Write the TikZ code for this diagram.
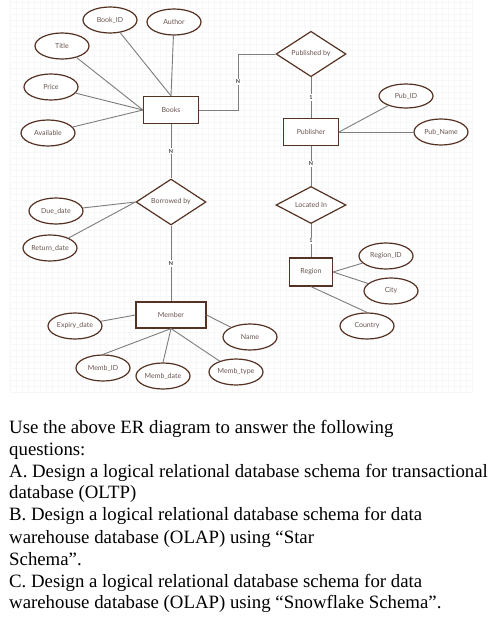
\documentclass[tikz,border=0pt]{standalone}
\usepackage{fontspec}
\setmainfont{Liberation Serif}
\newfontfamily\lato{Lato}
\usetikzlibrary{shapes.geometric}
\definecolor{erbrown}{RGB}{85,50,35}
\definecolor{ergray}{RGB}{125,125,125}
\definecolor{ertext}{RGB}{105,85,80}
\definecolor{ergrid}{RGB}{247,247,247}
\begin{document}
\begin{tikzpicture}[x=1pt,y=-1pt,
  lab/.style={font=\lato\fontsize{7}{7.5}\selectfont,text=ertext},
  attr/.style={ellipse,draw=erbrown,line width=1.2pt,fill=white,minimum width=54pt,minimum height=26pt,inner sep=0pt,lab},
  entity/.style={rectangle,draw=erbrown,line width=1.2pt,fill=white,minimum width=55pt,minimum height=27pt,inner sep=0pt,lab},
  rel/.style={diamond,draw=erbrown,line width=1.2pt,fill=white,minimum width=70pt,minimum height=33pt,inner sep=0pt,lab},
  link/.style={draw=ergray,line width=0.9pt},
  card/.style={fill=white,inner sep=1.2pt,font=\lato\bfseries\fontsize{5.5}{6}\selectfont,text=black!75},
  qtext/.style={anchor=base west,inner sep=0pt,font=\fontsize{18.8}{21.9}\selectfont}]
\useasboundingbox[fill=white] (0,0) rectangle (493,618);
\foreach \gx in {10,16,...,473} {\draw[ergrid,line width=0.4pt] (\gx,0) -- (\gx,392);}
\foreach \gy in {2,8,...,392} {\draw[ergrid,line width=0.4pt] (10,\gy) -- (473,\gy);}
% nodes
\node[attr] (bookid) at (110,20) {Book\_ID};
\node[attr] (author) at (174,22) {Author};
\node[attr] (title) at (62,46) {Title};
\node[attr] (price) at (51,87) {Price};
\node[attr] (avail) at (48,133) {Available};
\node[entity] (books) at (171,110) {Books};
\node[rel] (pubby) at (311,54) {Published by};
\node[entity] (publisher) at (311,132) {Publisher};
\node[attr,minimum height=24pt] (pubid) at (406,96) {Pub\_ID};
\node[attr] (pubname) at (441,132) {Pub\_Name};
\node[rel] (borrowed) at (171,202) {Borrowed by};
\node[attr] (due) at (56,211) {Due\_date};
\node[attr] (ret) at (50,248) {Return\_date};
\node[rel] (located) at (311,205) {Located In};
\node[entity,minimum width=43pt,minimum height=28pt] (region) at (311,272) {Region};
\node[attr] (regionid) at (386,256) {Region\_ID};
\node[attr] (city) at (391,291) {City};
\node[attr] (country) at (367,326) {Country};
\node[entity,minimum width=70pt,minimum height=26pt] (member) at (171,315) {Member};
\node[attr] (expiry) at (75,326) {Expiry\_date};
\node[attr] (name) at (250,337) {Name};
\node[attr] (mid) at (103,368) {Memb\_ID};
\node[attr] (mdate) at (163,376) {Memb\_date};
\node[attr] (mtype) at (236,372) {Memb\_type};
\coordinate (jx) at (238,0);
% connectors
\draw[link] (bookid) -- (books.north);
\draw[link] (author) -- (books.north);
\draw[link] (title) -- (books.west);
\draw[link] (price) -- (books.west);
\draw[link] (avail) -- (books.west);
\draw[link] (books.east) -- (books.east -| jx) |- (pubby.west)
  node[card,pos=0.25] (cn1) {N};
\draw[link] (pubby.south) -- (publisher.north) node[card,pos=0.5] (c11) {1};
\draw[link] (publisher.east) -- (pubid);
\draw[link] (publisher.east) -- (pubname.west);
\draw[link] (publisher.south) -- (located.north) node[card,pos=0.45] (cn2) {N};
\draw[link] (located.south) -- (region.north) node[card,pos=0.5] (c12) {1};
\draw[link] (region.east) -- (regionid);
\draw[link] (region.east) -- (city);
\draw[link] (region.south) -- (country.north);
\draw[link] (books.south) -- (borrowed.north) node[card,pos=0.5] (cn3) {N};
\draw[link] (due) -- (borrowed.west);
\draw[link] (ret) -- (borrowed.west);
\draw[link] (borrowed.south) -- (member.north) node[card,pos=0.5] (cn4) {N};
\draw[link] (expiry) -- (member.west);
\draw[link] (member.east) -- (name);
\draw[link] (member.south) -- (mid.north);
\draw[link] (member.south) -- (mdate.north);
\draw[link] (member.south) -- (mtype);
% question text
\node[qtext] (t1) at (9,433) {Use the above ER diagram to answer the following};
\node[qtext] (t2) at (9,455) {questions:};
\node[qtext] (t3) at (9,477) {A. Design a logical relational database schema for transactional};
\node[qtext] (t4) at (9,498) {database (OLTP)};
\node[qtext] (t5) at (9,520) {B. Design a logical relational database schema for data};
\node[qtext] (t6) at (9,543) {warehouse database (OLAP) using “Star};
\node[qtext] (t7) at (9,565) {Schema”.};
\node[qtext] (t8) at (9,587) {C. Design a logical relational database schema for data};
\node[qtext] (t9) at (9,608) {warehouse database (OLAP) using “Snowflake Schema”.};
\end{tikzpicture}
\end{document}
